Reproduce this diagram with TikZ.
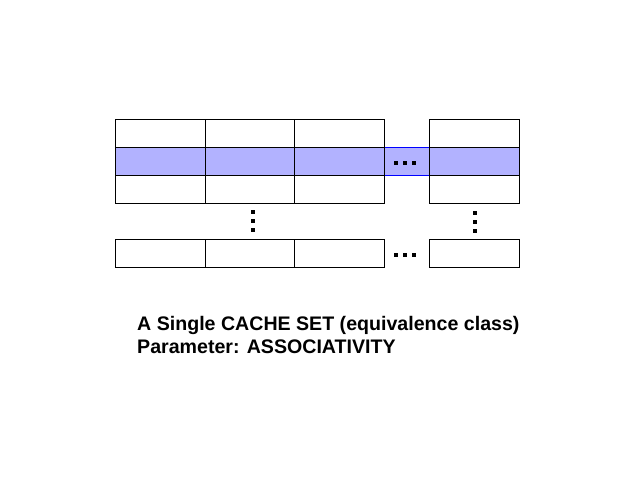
\documentclass[tikz,border=0pt]{standalone}
\usepackage{fontspec}
\setmainfont{Liberation Sans}
\begin{document}
\begin{tikzpicture}[x=1pt,y=-1pt,
  cell/.style={draw=black,line width=1pt},
  hl/.style={fill=blue!30!white},
  sq/.style={fill=black,minimum size=4pt,inner sep=0pt},
  lbl/.style={anchor=west,font=\bfseries\fontsize{19.6}{22}\selectfont,inner sep=0pt}]
\useasboundingbox (0,0) rectangle (638,478);
% highlight
\fill[hl] (115,148) rectangle (519,176);
\draw[blue,line width=1pt] (384,148) -- (429,148) (384,176) -- (429,176);
\foreach \y in {120,148,176,240}{
  \foreach \x in {115,205,294}{
    \pgfmathsetmacro{\xe}{\x==115?205:(\x==205?294:384)}
    \draw[cell] (\x,\y) rectangle ++(\xe-\x,28);
  }
  \draw[cell] (429,\y) rectangle (519,\y+28);
}
\foreach \x in {396,405,414}{
  \node[sq] (h\x) at (\x,163) {};
  \node[sq] (b\x) at (\x,255) {};
}
\foreach \y in {212,221,230}{
  \node[sq] (v\y) at (253,\y) {};
  \node[sq] (w\y) at (475,\y+1) {};
}
\node[lbl] (t1) at (137,325) {A Single CACHE SET (equivalence class)};
\node[lbl] (t2) at (137,347) {Parameter: ASSOCIATIVITY};
\end{tikzpicture}
\end{document}
